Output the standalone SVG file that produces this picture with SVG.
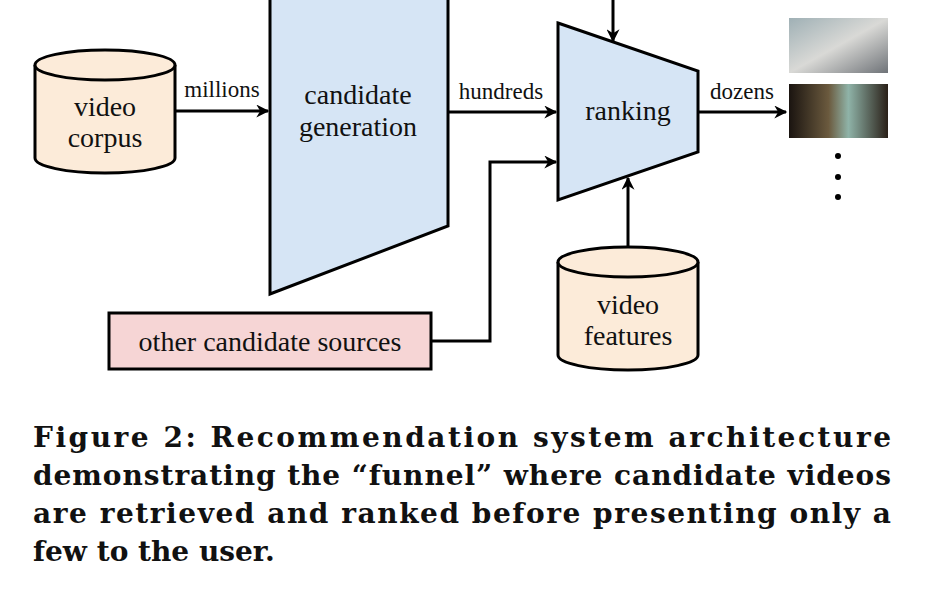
<svg xmlns="http://www.w3.org/2000/svg" width="942" height="600" viewBox="0 0 942 600">
<style>
.s{stroke:#000;stroke-width:3}
.blue{fill:#d6e5f5}
.tan{fill:#fcebd9}
.t{font-family:"Liberation Serif",serif;font-size:28px;fill:#111;text-anchor:middle}
.l{font-family:"Liberation Serif",serif;font-size:23px;fill:#111;text-anchor:middle}
.c{font-family:"DejaVu Serif",serif;font-size:28px;font-weight:bold;fill:#111}
.ln{fill:none;stroke:#000;stroke-width:3}
</style>
<defs>
<marker id="a" viewBox="0 0 10 10" refX="9" refY="5" markerWidth="15" markerHeight="13" orient="auto" markerUnits="userSpaceOnUse"><path d="M0,0 L10,5 L0,10 L3,5 z" fill="#000"/></marker>
<linearGradient id="g1" x1="0" y1="0" x2="1" y2="1"><stop offset="0" stop-color="#9fb0b5"/><stop offset="0.5" stop-color="#d9d9d6"/><stop offset="1" stop-color="#6f7378"/></linearGradient>
<linearGradient id="g2" x1="0" y1="0" x2="1" y2="0"><stop offset="0" stop-color="#1a1410"/><stop offset="0.4" stop-color="#6b5a3e"/><stop offset="0.6" stop-color="#8fb3a8"/><stop offset="1" stop-color="#2a2018"/></linearGradient>
</defs>
<rect width="942" height="600" fill="#fff"/>
<g id="connectors">
<line x1="175" y1="111" x2="268" y2="111" class="ln" marker-end="url(#a)"/>
<line x1="448" y1="112" x2="556" y2="112" class="ln" marker-end="url(#a)"/>
<polyline points="431,341 490,341 490,162 556,162" class="ln" marker-end="url(#a)"/>
<line x1="613" y1="0" x2="613" y2="41" class="ln" marker-end="url(#a)"/>
<line x1="628" y1="247" x2="628" y2="178" class="ln" marker-end="url(#a)"/>
<line x1="698" y1="112" x2="786" y2="112" class="ln" marker-end="url(#a)"/>
<text x="222" y="97" class="l">millions</text>
<text x="501" y="99" class="l">hundreds</text>
<text x="742" y="99" class="l">dozens</text>
</g>
<g id="video-corpus">
<path d="M35,65 L35,158 A70,15 0 0 0 175,158 L175,65" class="s tan"/>
<ellipse cx="105" cy="65" rx="70" ry="15" class="s tan"/>
<text x="105" y="116" class="t">video</text>
<text x="105" y="147" class="t">corpus</text>
</g>
<g id="candidate-generation">
<polygon points="270,-10 448,-10 448,226 270,294" class="s blue"/>
<text x="358" y="104" class="t">candidate</text>
<text x="358" y="136" class="t">generation</text>
</g>
<g id="ranking">
<polygon points="558,23 698,71 698,152 558,200" class="s blue"/>
<text x="628" y="120" class="t">ranking</text>
</g>
<g id="video-features">
<path d="M558,262 L558,355 A70,15 0 0 0 698,355 L698,262" class="s tan"/>
<ellipse cx="628" cy="262" rx="70" ry="15" class="s tan"/>
<text x="628" y="314" class="t">video</text>
<text x="628" y="345" class="t">features</text>
</g>
<g id="other-candidate-sources">
<rect x="109" y="313" width="322" height="56" fill="#f6d5d5" class="s"/>
<text x="270" y="351" class="t">other candidate sources</text>
</g>
<g id="results">
<rect x="789" y="18" width="99" height="55" fill="url(#g1)"/>
<rect x="789" y="84" width="99" height="54" fill="url(#g2)"/>
<circle cx="838" cy="156" r="3" fill="#000"/>
<circle cx="838" cy="177" r="3" fill="#000"/>
<circle cx="838" cy="197" r="3" fill="#000"/>
</g>
<g id="caption">
<text x="33" y="447" class="c" textLength="858" lengthAdjust="spacing">Figure 2:  Recommendation system architecture</text>
<text x="33" y="485" class="c" textLength="858" lengthAdjust="spacing">demonstrating the “funnel” where candidate videos</text>
<text x="33" y="523" class="c" textLength="858" lengthAdjust="spacing">are retrieved and ranked before presenting only a</text>
<text x="33" y="561" class="c">few to the user.</text>
</g>
</svg>
